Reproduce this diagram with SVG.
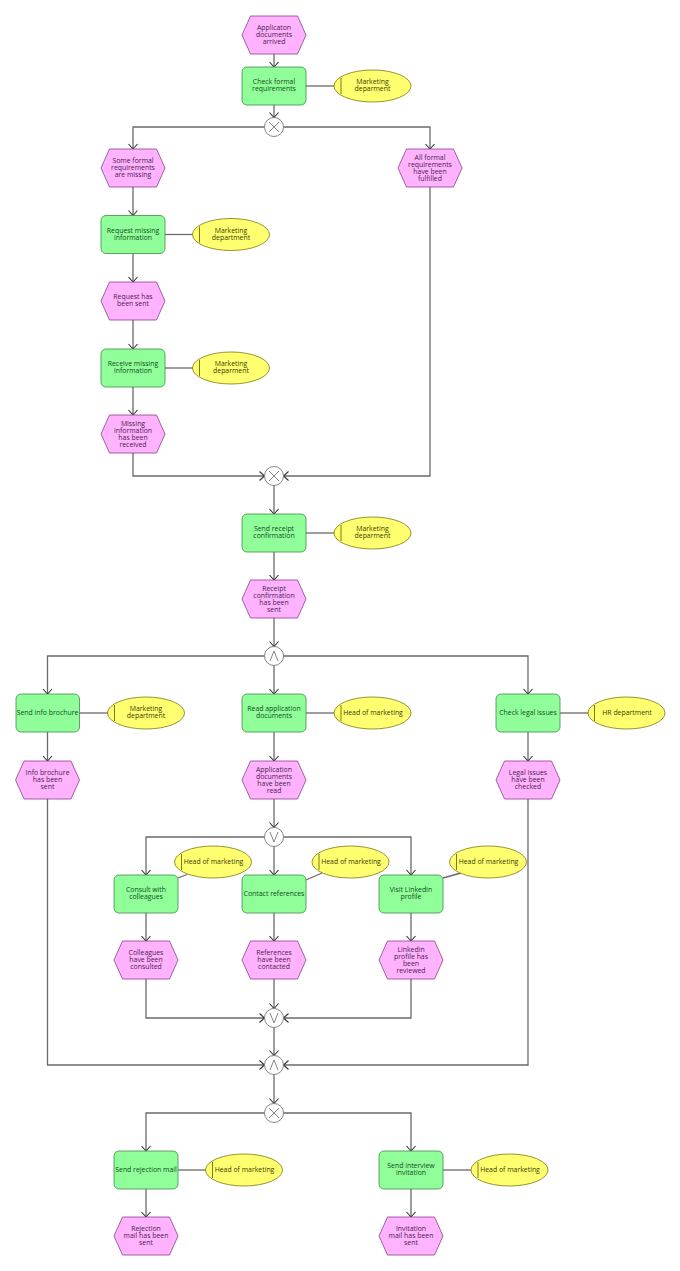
<svg xmlns="http://www.w3.org/2000/svg" width="680" height="1271" viewBox="0 0 680 1271">
<style>
text{font-family:"Open Sans","Liberation Sans",sans-serif;font-size:6.9px;text-anchor:middle}
.e use{fill:#ffb3ff;stroke:#8a3f8a;stroke-width:.8}
.e text{fill:#4a1a4a}
.f rect{fill:#90ff99;stroke:#3f8a47;stroke-width:.8}
.f text{fill:#0f4a1a}
.o ellipse{fill:#ffff70;stroke:#7a7a10;stroke-width:.8}
.o path{fill:none;stroke:#5a5a00;stroke-width:.8}
.o text{fill:#3a3a00}
.g circle{fill:#fff;stroke:#777;stroke-width:.9}
.g path{fill:none;stroke:#777;stroke-width:.9}
.c path{fill:none;stroke:#6a6a6a;stroke-width:1.3;marker-end:url(#a)}
.l path{fill:none;stroke:#6a6a6a;stroke-width:1.3}
</style>
<defs>
<marker id="a" markerUnits="userSpaceOnUse" markerWidth="12" markerHeight="12" refX="10" refY="6" orient="auto"><path d="M5 1.500L10 6L5 10.500" fill="none" stroke="#333" stroke-width="1.1"/></marker>
<polygon id="hex" points="-23.500,-19 23.500,-19 32,0 23.500,19 -23.500,19 -32,0"/>
</defs>
<g id="connectors">
<g class="c">
<path d="M274 54V67"/><path d="M274 105V117.500"/>
<path d="M264.500 127H133V149"/><path d="M283.500 127H430V149"/>
<path d="M133 187V215.500"/><path d="M133 253.500V282"/><path d="M133 320V349"/><path d="M133 387V415"/>
<path d="M133 453V476H264.500"/><path d="M430 187V476H283.500"/>
<path d="M274 485.500V514"/><path d="M274 552V580"/><path d="M274 618V646.500"/>
<path d="M264.500 656H47.500V694"/><path d="M274 665.500V694"/><path d="M283.500 656H528V694"/>
<path d="M47.500 732V761"/><path d="M274 732V761"/><path d="M528 732V761"/>
<path d="M274 799V827.500"/>
<path d="M264.500 837H146V875"/><path d="M274 846.500V875"/><path d="M283.500 837H411V875"/>
<path d="M146 913V941"/><path d="M274 913V941"/><path d="M411 913V941"/>
<path d="M146 979V1018H264.500"/><path d="M274 979V1008.500"/><path d="M411 979V1018H283.500"/>
<path d="M274 1027.500V1055.500"/>
<path d="M47.500 799V1065H264.500"/><path d="M528 799V1065H283.500"/>
<path d="M274 1074.500V1103.500"/>
<path d="M264.500 1113H146V1151"/><path d="M283.500 1113H411V1151"/>
<path d="M146 1189V1217"/><path d="M411 1189V1217"/>
</g>
<g class="l">
<path d="M306 86H334"/><path d="M165 234.500H193"/><path d="M165 368H193"/><path d="M306 533H334"/>
<path d="M79.500 713H108"/><path d="M306 713H334"/><path d="M560 713H588"/>
<path d="M178 878L187 874.500"/><path d="M306 880L322 873"/><path d="M443 878L461 873"/>
<path d="M178 1170H206"/><path d="M443 1170H471"/>
</g>
</g>
<g id="e1" class="e"><use href="#hex" x="274" y="35"/><text y="30.400"><tspan x="274">Applicaton</tspan><tspan x="274" dy="7">documents</tspan><tspan x="274" dy="7">arrived</tspan></text></g>
<g id="f1" class="f"><rect x="242" y="67" width="64" height="38" rx="5"/><text y="84.400"><tspan x="274">Check formal</tspan><tspan x="274" dy="7">requirements</tspan></text></g>
<g id="o1" class="o"><ellipse cx="372.500" cy="86" rx="38.500" ry="16"/><path d="M341 78V94"/><text y="84.400"><tspan x="372.500">Marketing</tspan><tspan x="372.500" dy="7">deparment</tspan></text></g>
<g id="g1" class="g"><circle cx="274" cy="127" r="9.500"/><path d="M269 122L279 132M279 122L269 132"/></g>
<g id="e2" class="e"><use href="#hex" x="133" y="168"/><text y="163.400"><tspan x="133">Some formal</tspan><tspan x="133" dy="7">requirements</tspan><tspan x="133" dy="7">are missing</tspan></text></g>
<g id="e3" class="e"><use href="#hex" x="430" y="168"/><text y="159.900"><tspan x="430">All formal</tspan><tspan x="430" dy="7">requirements</tspan><tspan x="430" dy="7">have been</tspan><tspan x="430" dy="7">fulfilled</tspan></text></g>
<g id="f2" class="f"><rect x="101" y="215.500" width="64" height="38" rx="5"/><text y="232.900"><tspan x="133">Request missing</tspan><tspan x="133" dy="7">information</tspan></text></g>
<g id="o2" class="o"><ellipse cx="231" cy="234.500" rx="38.500" ry="16"/><path d="M199.500 226.500V242.500"/><text y="232.900"><tspan x="231">Marketing</tspan><tspan x="231" dy="7">department</tspan></text></g>
<g id="e4" class="e"><use href="#hex" x="133" y="301"/><text y="299.400"><tspan x="133">Request has</tspan><tspan x="133" dy="7">been sent</tspan></text></g>
<g id="f3" class="f"><rect x="101" y="349" width="64" height="38" rx="5"/><text y="366.400"><tspan x="133">Receive missing</tspan><tspan x="133" dy="7">information</tspan></text></g>
<g id="o3" class="o"><ellipse cx="231" cy="368" rx="38.500" ry="16"/><path d="M199.500 360V376"/><text y="366.400"><tspan x="231">Marketing</tspan><tspan x="231" dy="7">deparment</tspan></text></g>
<g id="e5" class="e"><use href="#hex" x="133" y="434"/><text y="425.900"><tspan x="133">Missing</tspan><tspan x="133" dy="7">information</tspan><tspan x="133" dy="7">has been</tspan><tspan x="133" dy="7">received</tspan></text></g>
<g id="g2" class="g"><circle cx="274" cy="476" r="9.500"/><path d="M269 471L279 481M279 471L269 481"/></g>
<g id="f4" class="f"><rect x="242" y="514" width="64" height="38" rx="5"/><text y="531.400"><tspan x="274">Send receipt</tspan><tspan x="274" dy="7">confirmation</tspan></text></g>
<g id="o4" class="o"><ellipse cx="372.500" cy="533" rx="38.500" ry="16"/><path d="M341 525V541"/><text y="531.400"><tspan x="372.500">Marketing</tspan><tspan x="372.500" dy="7">deparment</tspan></text></g>
<g id="e6" class="e"><use href="#hex" x="274" y="599"/><text y="590.900"><tspan x="274">Receipt</tspan><tspan x="274" dy="7">confirmation</tspan><tspan x="274" dy="7">has been</tspan><tspan x="274" dy="7">sent</tspan></text></g>
<g id="g3" class="g"><circle cx="274" cy="656" r="9.500"/><path d="M270 661L274 651L278 661"/></g>
<g id="f5" class="f"><rect x="16" y="694" width="63.500" height="38" rx="5"/><text x="47.500" y="715.400">Send info brochure</text></g>
<g id="o5" class="o"><ellipse cx="146" cy="713" rx="38.500" ry="16"/><path d="M114.500 705V721"/><text y="711.400"><tspan x="146">Marketing</tspan><tspan x="146" dy="7">department</tspan></text></g>
<g id="f6" class="f"><rect x="242" y="694" width="64" height="38" rx="5"/><text y="711.400"><tspan x="274">Read application</tspan><tspan x="274" dy="7">documents</tspan></text></g>
<g id="o6" class="o"><ellipse cx="372.500" cy="713" rx="38.500" ry="16"/><path d="M341 705V721"/><text x="373" y="715.400">Head of marketing</text></g>
<g id="f7" class="f"><rect x="496" y="694" width="64" height="38" rx="5"/><text x="528" y="715.400">Check legal issues</text></g>
<g id="o7" class="o"><ellipse cx="626.500" cy="713" rx="38.500" ry="16"/><path d="M594.500 705V721"/><text x="627" y="715.400">HR department</text></g>
<g id="e7" class="e"><use href="#hex" x="47.500" y="780"/><text y="775.400"><tspan x="47.500">Info brochure</tspan><tspan x="47.500" dy="7">has been</tspan><tspan x="47.500" dy="7">sent</tspan></text></g>
<g id="e8" class="e"><use href="#hex" x="274" y="780"/><text y="771.900"><tspan x="274">Application</tspan><tspan x="274" dy="7">documents</tspan><tspan x="274" dy="7">have been</tspan><tspan x="274" dy="7">read</tspan></text></g>
<g id="e9" class="e"><use href="#hex" x="528" y="780"/><text y="775.400"><tspan x="528">Legal issues</tspan><tspan x="528" dy="7">have been</tspan><tspan x="528" dy="7">checked</tspan></text></g>
<g id="g4" class="g"><circle cx="274" cy="837" r="9.500"/><path d="M270 832L274 842L278 832"/></g>
<g id="f8" class="f"><rect x="114" y="875" width="64" height="38" rx="5"/><text y="892.400"><tspan x="146">Consult with</tspan><tspan x="146" dy="7">colleagues</tspan></text></g>
<g id="o8" class="o"><ellipse cx="213" cy="862" rx="38.500" ry="16"/><path d="M181.500 854V870"/><text x="213.500" y="864.400">Head of marketing</text></g>
<g id="f9" class="f"><rect x="242" y="875" width="64" height="38" rx="5"/><text x="274" y="896.400">Contact references</text></g>
<g id="o9" class="o"><ellipse cx="350.500" cy="862" rx="38.500" ry="16"/><path d="M319 854V870"/><text x="351" y="864.400">Head of marketing</text></g>
<g id="f10" class="f"><rect x="379" y="875" width="64" height="38" rx="5"/><text y="892.400"><tspan x="411">Visit LinkedIn</tspan><tspan x="411" dy="7">profile</tspan></text></g>
<g id="o10" class="o"><ellipse cx="488" cy="862" rx="38.500" ry="16"/><path d="M456.500 854V870"/><text x="488.500" y="864.400">Head of marketing</text></g>
<g id="e10" class="e"><use href="#hex" x="146" y="960"/><text y="955.400"><tspan x="146">Colleagues</tspan><tspan x="146" dy="7">have been</tspan><tspan x="146" dy="7">consulted</tspan></text></g>
<g id="e11" class="e"><use href="#hex" x="274" y="960"/><text y="955.400"><tspan x="274">References</tspan><tspan x="274" dy="7">have been</tspan><tspan x="274" dy="7">contacted</tspan></text></g>
<g id="e12" class="e"><use href="#hex" x="411" y="960"/><text y="951.900"><tspan x="411">Linkedin</tspan><tspan x="411" dy="7">profile has</tspan><tspan x="411" dy="7">been</tspan><tspan x="411" dy="7">reviewed</tspan></text></g>
<g id="g5" class="g"><circle cx="274" cy="1018" r="9.500"/><path d="M270 1013L274 1023L278 1013"/></g>
<g id="g6" class="g"><circle cx="274" cy="1065" r="9.500"/><path d="M270 1070L274 1060L278 1070"/></g>
<g id="g7" class="g"><circle cx="274" cy="1113" r="9.500"/><path d="M269 1108L279 1118M279 1108L269 1118"/></g>
<g id="f11" class="f"><rect x="114" y="1151" width="64" height="38" rx="5"/><text x="146" y="1172.400">Send rejection mail</text></g>
<g id="o11" class="o"><ellipse cx="244" cy="1170" rx="38.500" ry="16"/><path d="M212.500 1162V1178"/><text x="244.500" y="1172.400">Head of marketing</text></g>
<g id="f12" class="f"><rect x="379" y="1151" width="64" height="38" rx="5"/><text y="1168.400"><tspan x="411">Send interview</tspan><tspan x="411" dy="7">invitation</tspan></text></g>
<g id="o12" class="o"><ellipse cx="509.500" cy="1170" rx="38.500" ry="16"/><path d="M478 1162V1178"/><text x="510" y="1172.400">Head of marketing</text></g>
<g id="e13" class="e"><use href="#hex" x="146" y="1236"/><text y="1231.400"><tspan x="146">Rejection</tspan><tspan x="146" dy="7">mail has been</tspan><tspan x="146" dy="7">sent</tspan></text></g>
<g id="e14" class="e"><use href="#hex" x="411" y="1236"/><text y="1231.400"><tspan x="411">Invitation</tspan><tspan x="411" dy="7">mail has been</tspan><tspan x="411" dy="7">sent</tspan></text></g>
</svg>
